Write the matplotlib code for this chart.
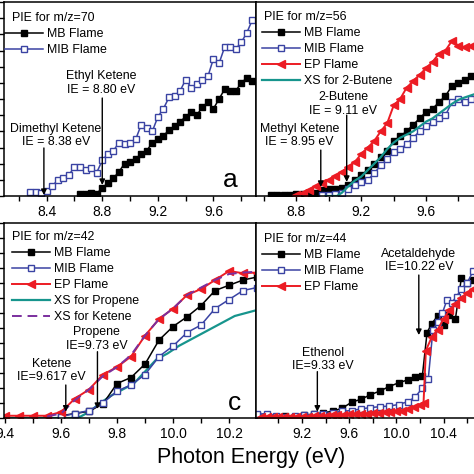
import matplotlib
matplotlib.use("Agg")
import matplotlib.pyplot as plt
from matplotlib.ticker import MultipleLocator

plt.rcParams['font.family'] = ['Liberation Sans', 'DejaVu Sans']

# ---------------- panel a : m/z = 70 ----------------
a_mb_x = [8.64, 8.68, 8.72, 8.76, 8.80, 8.84, 8.88, 8.92, 8.96, 9.00, 9.04, 9.08,
          9.12, 9.16, 9.20, 9.24, 9.28, 9.32, 9.36, 9.40, 9.44, 9.48, 9.52, 9.56,
          9.60, 9.64, 9.68, 9.72, 9.76, 9.80, 9.84, 9.88]
a_mb_y = [0.1, 0.15, 0.2, 0.15, 0.5, 0.8, 1.1, 1.5, 2.0, 2.1, 2.3, 2.6,
          2.8, 3.3, 3.5, 3.7, 4.1, 4.3, 4.6, 4.9, 5.2, 5.0, 5.5, 5.8,
          5.4, 6.0, 6.6, 6.5, 6.5, 7.0, 7.3, 7.1]
a_mib_x = [8.28, 8.32, 8.36, 8.40, 8.44, 8.48, 8.52, 8.56, 8.60, 8.64, 8.68, 8.72,
           8.76, 8.80, 8.84, 8.88, 8.92, 8.96, 9.00, 9.04, 9.08, 9.12, 9.16, 9.20,
           9.24, 9.28, 9.32, 9.36, 9.40, 9.44, 9.48, 9.52, 9.56, 9.60, 9.64, 9.68,
           9.72, 9.76, 9.80, 9.84, 9.88]
a_mib_y = [0.25, 0.25, 0.2, 0.3, 0.6, 1.0, 1.1, 1.3, 1.8, 1.8, 1.6, 1.75,
           1.45, 2.2, 2.6, 2.8, 3.3, 3.2, 3.3, 3.5, 4.4, 4.2, 4.0, 4.9,
           5.4, 6.1, 6.2, 6.5, 7.2, 6.7, 6.9, 7.2, 7.4, 8.5, 8.2, 9.2,
           9.2, 9.1, 9.5, 10.1, 10.9]

# ---------------- panel b : m/z = 56 ----------------
b_mb_x = [8.64, 8.68, 8.72, 8.76, 8.80, 8.84, 8.88, 8.92, 8.96, 9.00, 9.04, 9.08,
          9.12, 9.16, 9.20, 9.24, 9.28, 9.32, 9.36, 9.40, 9.44, 9.48, 9.52, 9.56,
          9.60, 9.64, 9.68, 9.72, 9.76, 9.80, 9.84, 9.88]
b_mb_y = [0.05, 0.05, 0.05, 0.05, 0.1, 0.1, 0.15, 0.2, 0.4, 0.45, 0.45, 0.5,
          0.7, 1.0, 1.3, 1.6, 2.0, 2.4, 2.8, 3.4, 3.7, 4.0, 4.4, 4.8,
          5.2, 5.4, 5.8, 6.2, 6.8, 7.0, 7.2, 7.4]
b_mib_x = [8.96, 9.00, 9.04, 9.08, 9.12, 9.16, 9.20, 9.24, 9.28, 9.32, 9.36, 9.40,
           9.44, 9.48, 9.52, 9.56, 9.60, 9.64, 9.68, 9.72, 9.76, 9.80, 9.84, 9.88]
b_mib_y = [0.05, 0.05, 0.1, 0.2, 0.45, 0.7, 0.85, 1.0, 1.4, 1.9, 2.3, 2.7,
           2.9, 3.2, 3.6, 4.0, 4.3, 4.6, 4.8, 5.0, 5.8, 6.0, 5.8, 6.0]
b_ep_x = [8.80, 8.84, 8.88, 8.92, 8.96, 9.00, 9.04, 9.08, 9.12, 9.16, 9.20, 9.24,
          9.28, 9.32, 9.36, 9.40, 9.44, 9.48, 9.52, 9.56, 9.60, 9.64, 9.68, 9.72,
          9.76, 9.80, 9.84, 9.88]
b_ep_y = [0.05, 0.2, 0.4, 0.6, 0.8, 1.0, 1.25, 1.5, 1.8, 2.1, 2.6, 3.0,
          3.4, 4.0, 4.5, 5.6, 6.0, 6.7, 7.1, 7.5, 7.9, 8.3, 8.8, 9.0,
          9.6, 9.3, 9.2, 9.3]
b_xs_x = [8.98, 9.05, 9.08, 9.12, 9.16, 9.20, 9.24, 9.28, 9.32, 9.36, 9.40, 9.44,
          9.48, 9.52, 9.56, 9.60, 9.64, 9.68, 9.72, 9.76, 9.80, 9.84, 9.90]
b_xs_y = [0.0, 0.0, 0.2, 0.6, 0.95, 1.2, 1.6, 2.0, 2.4, 2.9, 3.3, 3.6,
          3.8, 4.0, 4.3, 4.6, 4.8, 5.1, 5.4, 5.7, 5.95, 6.1, 6.3]

# ---------------- panel c : m/z = 42 ----------------
c_mb_x = [9.60, 9.65, 9.70, 9.75, 9.80, 9.85, 9.90, 9.95, 10.00, 10.05, 10.10,
          10.15, 10.20, 10.25, 10.30]
c_mb_y = [0.15, 0.3, 0.45, 0.95, 2.3, 2.7, 3.6, 5.2, 6.1, 6.75, 7.5,
          8.5, 8.85, 9.2, 9.4]
c_mib_x = [9.60, 9.65, 9.70, 9.75, 9.80, 9.85, 9.90, 9.95, 10.00, 10.05, 10.10,
           10.15, 10.20, 10.25, 10.30]
c_mib_y = [0.1, 0.3, 0.5, 1.0, 1.8, 2.2, 2.9, 4.1, 4.8, 5.7, 6.2,
           7.3, 7.9, 8.5, 8.7]
c_ep_x = [9.40, 9.45, 9.50, 9.55, 9.60, 9.65, 9.70, 9.75, 9.80, 9.85, 9.90, 9.95,
          10.00, 10.05, 10.10, 10.15, 10.20, 10.25, 10.30]
c_ep_y = [0.15, 0.15, 0.15, 0.15, 0.4, 1.3, 1.9, 2.9, 3.4, 4.1, 5.5, 6.6,
          7.3, 8.2, 8.6, 9.2, 9.8, 9.65, 9.7]
c_prop_x = [9.40, 9.66, 9.70, 9.74, 9.78, 9.82, 9.86, 9.90, 9.94, 9.98, 10.02,
            10.06, 10.10, 10.14, 10.18, 10.22, 10.26, 10.30]
c_prop_y = [0.0, 0.0, 0.4, 1.0, 1.5, 1.9, 2.3, 3.1, 3.9, 4.3, 4.8,
            5.2, 5.6, 6.0, 6.4, 6.8, 7.0, 7.2]
c_ket_x = [9.55, 9.60, 9.65, 9.70, 9.75, 9.80, 9.85, 9.90, 9.95, 10.00, 10.05,
           10.10, 10.15, 10.20, 10.25, 10.30]
c_ket_y = [0.1, 0.3, 1.2, 1.9, 2.8, 3.4, 4.2, 5.5, 6.6, 7.3, 8.2,
           8.7, 9.2, 9.6, 9.7, 9.75]

# ---------------- panel d : m/z = 44 ----------------
d_mb_x = [8.82, 8.90, 8.98, 9.06, 9.14, 9.22, 9.30, 9.38, 9.46, 9.54, 9.62, 9.70,
          9.78, 9.86, 9.94, 10.02, 10.10, 10.16, 10.22, 10.26, 10.30, 10.35, 10.40,
          10.45, 10.50, 10.55, 10.60, 10.65]
d_mb_y = [0.2, 0.15, 0.1, 0.15, 0.1, 0.2, 0.25, 0.35, 0.45, 0.65, 1.05, 1.25,
          1.55, 1.8, 2.1, 2.35, 2.55, 2.75, 2.8, 5.7, 6.3, 6.8, 6.2,
          6.9, 6.6, 9.3, 9.0, 9.2]
d_mib_x = [8.82, 8.90, 8.98, 9.06, 9.14, 9.22, 9.30, 9.38, 9.46, 9.54, 9.62, 9.70,
           9.78, 9.86, 9.94, 10.02, 10.10, 10.16, 10.22, 10.27, 10.31, 10.35, 10.39,
           10.43, 10.47, 10.51, 10.55, 10.60, 10.65]
d_mib_y = [0.25, 0.3, 0.15, 0.1, 0.15, 0.2, 0.25, 0.3, 0.35, 0.45, 0.5, 0.6,
           0.7, 0.75, 0.8, 0.9, 1.1, 1.4, 2.0, 2.6, 5.9, 6.4, 7.0,
           7.9, 7.7, 8.1, 8.6, 9.0, 9.8]
d_ep_x = [8.85, 8.90, 8.95, 9.00, 9.05, 9.10, 9.15, 9.20, 9.25, 9.30, 9.35, 9.40,
          9.45, 9.50, 9.55, 9.60, 9.65, 9.70, 9.75, 9.80, 9.85, 9.90, 9.95, 10.00,
          10.05, 10.10, 10.15, 10.20, 10.23, 10.25, 10.30, 10.35, 10.40, 10.45,
          10.50, 10.55, 10.60, 10.65]
d_ep_y = [0.1, 0.1, 0.05, 0.05, 0.05, 0.1, 0.1, 0.1, 0.1, 0.15, 0.15, 0.15,
          0.2, 0.2, 0.2, 0.25, 0.25, 0.3, 0.3, 0.35, 0.35, 0.4, 0.4, 0.45,
          0.5, 0.6, 0.75, 0.9, 1.0, 4.5, 5.4, 5.9, 6.6, 7.2,
          7.6, 8.0, 8.3, 8.6]

# labelled x ticks of each panel (the rest of every panel is cut off the picture)
a_ticks = [8.4, 8.8, 9.2, 9.6]
b_ticks = [8.8, 9.2, 9.6]
c_ticks = [9.4, 9.6, 9.8, 10.0, 10.2]
d_ticks = [9.2, 9.6, 10.0, 10.4]

BLACK = 'black'
BLUE = '#3a43a3'
RED = '#ec1c24'
TEAL = '#17958d'
PURPLE = '#7b2f9e'
FS = 8.9

fig = plt.figure(figsize=(4.74, 4.74), dpi=100)


def add_panel(x0, y0, x1, y1):
    return fig.add_axes([x0 / 474, 1 - y1 / 474, (x1 - x0) / 474, (y1 - y0) / 474])


ax_a = add_panel(4, 2, 256, 196)
ax_c = add_panel(4, 223, 256, 418)
ax_b = add_panel(256, 2, 508, 196)
ax_d = add_panel(256, 223, 508, 418)


def mb(ax, x, y):
    ax.plot(x, y, color=BLACK, lw=1.1, marker='s', ms=4.6, mfc=BLACK, mec=BLACK,
            label='MB Flame')


def mib(ax, x, y):
    ax.plot(x, y, color=BLUE, lw=1.1, marker='s', ms=4.6, mfc='white', mec=BLUE,
            mew=1.0, label='MIB Flame')


def ep(ax, x, y):
    ax.plot(x, y, color=RED, lw=1.4, marker='<', ms=5.8, mfc=RED, mec=RED,
            label='EP Flame')


def arrow(ax, x, ytail, ytip):
    ax.annotate('', xy=(x, ytip), xytext=(x, ytail),
                arrowprops=dict(arrowstyle='-|>', color='black', lw=1.0,
                                mutation_scale=8, shrinkA=0, shrinkB=0))


def label(ax, x, y, s):
    ax.text(x, y, s, ha='center', va='center', fontsize=FS, linespacing=1.2)


# panel a
mb(ax_a, a_mb_x, a_mb_y)
mib(ax_a, a_mib_x, a_mib_y)
ax_a.set_xlim(8.093, 9.906)
ax_a.set_ylim(0, 12)
label(ax_a, 8.467, 3.74, 'Dimethyl Ketene\nIE = 8.38 eV')
arrow(ax_a, 8.38, 2.97, 0.06)
label(ax_a, 8.79, 6.97, 'Ethyl Ketene\nIE = 8.80 eV')
arrow(ax_a, 8.80, 6.06, 0.68)
ax_a.text(9.72, 1.0, 'a', fontsize=19, ha='center', va='center')

# panel b
mb(ax_b, b_mb_x, b_mb_y)
mib(ax_b, b_mib_x, b_mib_y)
ep(ax_b, b_ep_x, b_ep_y)
ax_b.plot(b_xs_x, b_xs_y, color=TEAL, lw=1.6, label='XS for 2-Butene')
ax_b.set_xlim(8.55, 10.106)
ax_b.set_ylim(0, 12)
label(ax_b, 9.09, 5.7, '2-Butene\nIE = 9.11 eV')
arrow(ax_b, 9.11, 5.0, 0.87)
label(ax_b, 8.82, 3.74, 'Methyl Ketene\nIE = 8.95 eV')
arrow(ax_b, 8.95, 2.84, 0.56)

# panel c
ax_c.plot(c_prop_x, c_prop_y, color=TEAL, lw=1.6, label='XS for Propene', zorder=1)
mb(ax_c, c_mb_x, c_mb_y)
mib(ax_c, c_mib_x, c_mib_y)
ep(ax_c, c_ep_x, c_ep_y)
ax_c.plot(c_ket_x, c_ket_y, color=PURPLE, lw=1.4, ls=(0, (5, 3)), label='XS for Ketene')
ax_c.set_xlim(9.3964, 10.296)
ax_c.set_ylim(0, 13)
label(ax_c, 9.726, 5.25, 'Propene\nIE=9.73 eV')
arrow(ax_c, 9.73, 4.42, 0.6)
label(ax_c, 9.567, 3.17, 'Ketene\nIE=9.617 eV')
arrow(ax_c, 9.617, 2.2, 0.42)
ax_c.text(10.22, 1.0, 'c', fontsize=19, ha='center', va='center')

# panel d
mb(ax_d, d_mb_x, d_mb_y)
mib(ax_d, d_mib_x, d_mib_y)
ep(ax_d, d_ep_x, d_ep_y)
ax_d.set_xlim(8.81, 10.946)
ax_d.set_ylim(0, 13)
label(ax_d, 10.19, 10.5, 'Acetaldehyde\nIE=10.22 eV')
arrow(ax_d, 10.19, 9.53, 5.53)
label(ax_d, 9.38, 3.9, 'Ethenol\nIE=9.33 eV')
arrow(ax_d, 9.33, 3.09, 0.42)

# legends: title drawn as text, entries as a legend below it
legend_specs = [
    (ax_a, 'PIE for m/z=70', (0.032, 0.918), (0.004, 0.866)),
    (ax_b, 'PIE for m/z=56', (0.032, 0.923), (0.024, 0.872)),
    (ax_c, 'PIE for m/z=42', (0.032, 0.928), (0.032, 0.877)),
    (ax_d, 'PIE for m/z=44', (0.032, 0.918), (0.024, 0.867)),
]
wanted = ['MB Flame', 'MIB Flame', 'EP Flame', 'XS for 2-Butene',
          'XS for Propene', 'XS for Ketene']
for ax, title, tpos, anchor in legend_specs:
    ax.text(tpos[0], tpos[1], title, transform=ax.transAxes, fontsize=FS,
            ha='left', va='center')
    h, l = ax.get_legend_handles_labels()
    order = [l.index(k) for k in wanted if k in l]
    ax.legend([h[i] for i in order], [l[i] for i in order],
              loc='upper left', bbox_to_anchor=anchor, frameon=False,
              fontsize=FS, handlelength=3.1, handletextpad=0.3, borderpad=0,
              borderaxespad=0, labelspacing=0.33, numpoints=1)

for ax in (ax_a, ax_b, ax_c, ax_d):
    for sp in ax.spines.values():
        sp.set_linewidth(1.1)
    ax.tick_params(axis='x', which='both', direction='out', length=3.5, width=1.0,
                   labelsize=10, pad=3)
    ax.tick_params(axis='y', which='both', direction='out', length=3.5, width=1.0,
                   labelleft=False)

for ax, ticks in ((ax_a, a_ticks), (ax_b, b_ticks), (ax_d, d_ticks)):
    ax.set_xticks(ticks)
    ax.xaxis.set_minor_locator(MultipleLocator(0.2))
ax_c.set_xticks(c_ticks)
ax_c.xaxis.set_minor_locator(MultipleLocator(0.1))
for ax in (ax_a, ax_c):
    ax.yaxis.set_major_locator(MultipleLocator(1))
for ax in (ax_b, ax_d):
    ax.tick_params(axis='y', which='both', left=False)

fig.text(251.5 / 474, 1 - 458 / 474, 'Photon Energy (eV)', fontsize=15.5,
         ha='center', va='center')

fig.savefig('out.png', dpi=100)
